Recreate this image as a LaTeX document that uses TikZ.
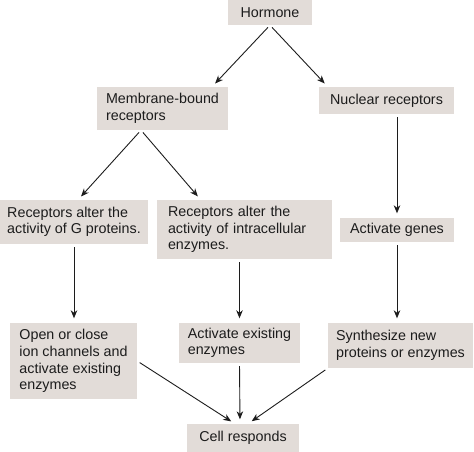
\documentclass[tikz,border=0pt]{standalone}
\usepackage{fontspec}
\setmainfont{Liberation Sans}
\usetikzlibrary{arrows.meta}

\definecolor{boxfill}{RGB}{226,220,216}
\definecolor{inkgray}{RGB}{28,28,28}

\begin{document}
\begin{tikzpicture}[x=1pt, y=-1pt,
	box/.style={fill=boxfill, text=inkgray, align=left, inner sep=0pt, font=\fontsize{14.3}{16.6}\selectfont},
	link/.style={draw=inkgray, line width=0.9pt, -{Stealth[length=8pt, width=6.5pt, inset=2.5pt]}, shorten <=3pt, shorten >=4.5pt}]
	\useasboundingbox (0,0) rectangle (474,452);
	
			\node[box, minimum width=84pt, minimum height=25pt]     (hormone)  at (270,12.5)  {Hormone};
			\node[box, minimum width=131pt, minimum height=43pt]    (membrane) at (162.5,108.5) {Membrane-bound\\receptors};
			\node[box, minimum width=135pt, minimum height=27pt]    (nuclear)  at (386.5,100.5) {Nuclear receptors};
			
			\node[box, minimum width=148pt, minimum height=44pt]    (g proteins) at (74,222)  {Receptors alter the\\activity of G proteins.};
			\node[box, text width=153pt, inner xsep=11pt, minimum height=59pt] (enzymes) at (244.5,229.5) {Receptors alter the\\activity of intracellular\\enzymes.};
			\node[box, minimum width=114pt, minimum height=24pt]    (genes)    at (397,230)   {Activate genes};
			
			\node[box, minimum width=127pt, minimum height=76pt]    (ion channels)     at (73.5,361)  {Open or close\\ion channels and\\activate existing\\enzymes};
			\node[box, minimum width=121pt, minimum height=40pt]    (existing enzymes) at (239.5,343) {Activate existing\\enzymes};
			\node[box, minimum width=145pt, minimum height=45pt]    (new proteins)     at (400.5,345.5) {Synthesize new\\proteins or enzymes};
			
			\node[box, minimum width=112pt, minimum height=28pt]    (cell responds)    at (243,438) {Cell responds};
	
			% hormone splits
			\draw[link] (hormone.south) -- ([xshift=49.5pt]membrane.north);
			\draw[link] (hormone.south) -- ([xshift=9pt]nuclear.north west);
			
			\draw[link] ([xshift=-21.5pt]membrane.south) -- ([xshift=4pt]g proteins.north);
			\draw[link] ([xshift=-21.5pt]membrane.south) -- ([xshift=44pt]enzymes.north west);
			\draw[link] (nuclear.south -| genes.north) -- (genes.north);
			
			\draw[link] (g proteins.south) -- (g proteins.south |- ion channels.north);
			\draw[link] (existing enzymes.north |- enzymes.south) -- (existing enzymes.north);
			\draw[link] (genes.south) -- (genes.south |- new proteins.north);
			
			% all end in the response
			\draw[link] (ion channels.east) -- ([xshift=-8pt]cell responds.north);
			\draw[link] (existing enzymes.south) -- ([xshift=-3pt]cell responds.north);
			\draw[link] (new proteins.south west) -- ([xshift=5pt]cell responds.north);
			
\end{tikzpicture}
\end{document}
